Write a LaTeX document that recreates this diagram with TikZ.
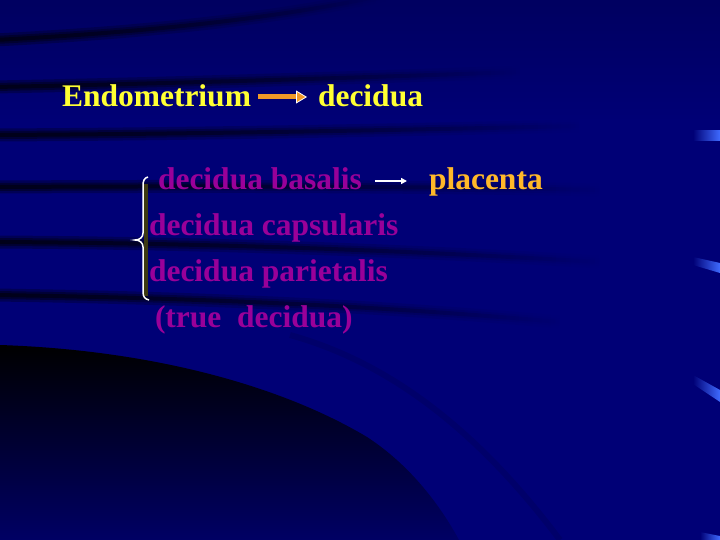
\documentclass[tikz,border=0pt]{standalone}
\usepackage{fontspec}
\setmainfont{Liberation Serif}
\usetikzlibrary{arrows.meta,fadings}
\definecolor{bgnavy}{HTML}{000076}
\definecolor{stripe}{HTML}{000014}
\definecolor{txtyellow}{HTML}{FFFF33}
\definecolor{txtpurple}{HTML}{990099}
\definecolor{txtgold}{HTML}{FFB829}
\definecolor{arroworange}{HTML}{F09A28}
\definecolor{braceolive}{HTML}{3E3A12}
\definecolor{tickblue}{HTML}{3F6BFF}
\tikzfading[name=faderight, left color=transparent!0, middle color=transparent!15, right color=transparent!100]
\begin{document}
\begin{tikzpicture}[x=1pt,y=-1pt,
  lbl/.style={inner sep=0pt, outer sep=0pt, anchor=base west, font=\fontsize{31.5}{38}\selectfont\bfseries},
  stripeA/.style={draw=stripe, line width=13pt, opacity=0.35, path fading=faderight},
  stripeB/.style={draw=stripe, line width=8pt, opacity=0.5, path fading=faderight},
  stripeC/.style={draw=stripe, line width=4pt, opacity=0.8, path fading=faderight},
  tick/.style={left color=bgnavy, right color=tickblue},
  orangearr/.style={draw=arroworange, line width=5pt, -{Triangle[length=11pt,width=13pt,fill=arroworange,color=white,line width=0.8pt]}},
  whitearr/.style={draw=white, line width=1.6pt, -{Triangle[length=6pt,width=6pt]}}
]
\useasboundingbox (0,0) rectangle (720,540);
% background
\fill[bgnavy] (0,0) rectangle (720,540);
\shade[top color=bgnavy!70!black, bottom color=bgnavy, opacity=0.6] (0,0) rectangle (720,120);
% stripes
\foreach \s in {stripeA,stripeB,stripeC}{
  \path[\s] (-5,40) .. controls (150,32) and (280,18) .. (385,-5);
  \path[\s] (-5,87) .. controls (150,84) and (350,78) .. (520,72);
  \path[\s] (-5,135) .. controls (200,134) and (400,130) .. (580,126);
  \path[\s] (-5,187) .. controls (200,186) and (400,186) .. (600,190);
  \path[\s] (-5,242) .. controls (200,243) and (400,250) .. (600,262);
  \path[\s] (-5,295) .. controls (200,298) and (380,306) .. (560,322);
}
% faint arc
\path[draw=stripe, line width=6pt, opacity=0.12] (290,335) .. controls (380,360) and (470,420) .. (560,540);
% big dark region
\begin{scope}
  \clip (0,345) .. controls (150,350) and (280,385) .. (367,437) .. controls (410,465) and (440,505) .. (459,540) -- (0,540) -- cycle;
  \shade[top color=black, bottom color=bgnavy!85!black] (0,345) rectangle (460,540);
\end{scope}
% right ticks
\shade[tick] (693,131) rectangle (720,141);
\shade[tick] (693,257) -- (720,263) -- (720,273) -- (693,265) -- cycle;
\shade[tick] (693,375) -- (720,390) -- (720,402) -- (693,384) -- cycle;
\shade[tick] (700,532) -- (720,536) -- (720,540) -- (700,540) -- cycle;
% texts
\node[lbl, text=txtyellow] (endo) at (62,107) {Endometrium};
\node[lbl, text=txtyellow] (dec) at (318,107) {decidua};
\node[lbl, text=txtpurple] (basal) at (158,190) {decidua basalis};
\node[lbl, text=txtgold] (plac) at (429,190) {placenta};
\node[lbl, text=txtpurple] (caps) at (149,236) {decidua capsularis};
\node[lbl, text=txtpurple] (pari) at (149,281) {decidua parietalis};
\node[lbl, text=txtpurple] (true) at (155,327) {(true\ \ decidua)};
% arrows
\draw[orangearr] ([xshift=7pt,yshift=10pt]endo.base east) -- ([xshift=-11pt,yshift=10pt]dec.base west);
\draw[whitearr] ([xshift=13pt,yshift=9pt]basal.base east) -- ([xshift=-22pt,yshift=9pt]plac.base west);
% brace
\fill[braceolive] (144,184) rectangle (148,296);
\draw[white, line width=1.5pt] (148,177) .. controls (144,178) and (143,181) .. (143,186) -- (143,233) .. controls (143,237) and (140,240) .. (135,240) .. controls (140,240) and (143,243) .. (143,247) -- (143,292) .. controls (143,297) and (145,299) .. (149,300);
\end{tikzpicture}
\end{document}
